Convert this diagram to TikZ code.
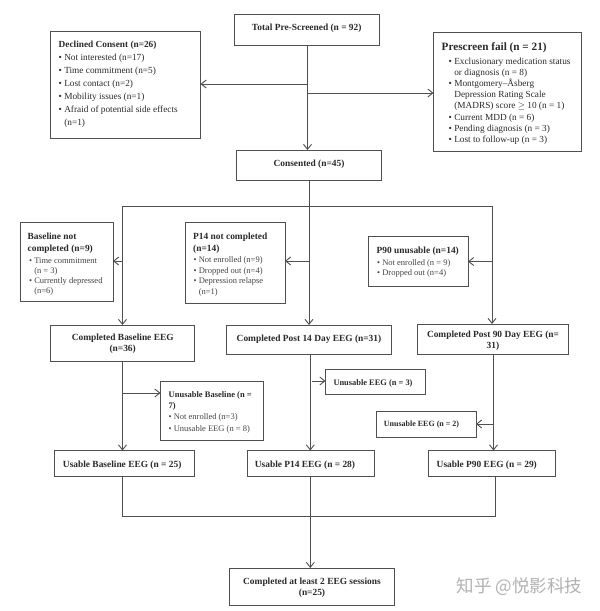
\documentclass[tikz,border=0pt]{standalone}
\usepackage{fontspec}
\setmainfont{Liberation Serif}
\newfontfamily\cjkwm{Noto Sans CJK SC}
\usetikzlibrary{arrows.meta}
\definecolor{linegray}{HTML}{505050}
\definecolor{txt}{HTML}{2A2A2A}
\definecolor{subtxt}{HTML}{444444}
\tikzset{
  x=1pt,y=-1pt,
  flowbox/.style={draw=linegray,line width=1pt,inner sep=0pt,outer sep=0pt,anchor=north west,fill=white},
  flowtext/.style={inner sep=0pt,anchor=north west,text=txt,align=left},
  head/.style={inner sep=0pt,text=txt,font=\bfseries\fontsize{9.4}{11}\selectfont,align=center},
  flow/.style={draw=linegray,line width=1pt},
  flowarrow/.style={flow,-{Straight Barb[length=5pt,width=8pt,line width=0.9pt]}},
}
\newcommand{\bx}[6]{% name, x1, y1, x2, y2, text
  \node[flowbox,minimum width={(#4-#2)*1pt},minimum height={(#5-#3)*1pt}] (#1) at (#2,#3) {};
  #6
}
\newcommand{\blt}{\textbullet\ }
\begin{document}
\begin{tikzpicture}
\useasboundingbox (0,0) rectangle (600,611);
\fill[white] (0,0) rectangle (600,611);
% boxes
\bx{total}{234.5}{14}{379}{45}{\node[head] (ttotal) at (306.7,28.4) {Total Pre-Screened (n = 92)};}
\bx{declined}{50.5}{31}{200.5}{138.5}{\node[flowtext,font=\fontsize{9.3}{13.05}\selectfont] (tdeclined) at (58.5,40.5) {\textbf{Declined Consent (n=26)}\\
\blt Not interested (n=17)\\
\blt Time commitment (n=5)\\
\blt Lost contact (n=2)\\
\blt Mobility issues (n=1)\\
\blt Afraid of potential side effects\\
\hspace*{5.6pt}(n=1)};}
\bx{prefail}{433.5}{32}{581.5}{151}{
\node[flowtext,font=\bfseries\fontsize{11.2}{13}\selectfont] (tprefailh) at (441.5,42) {Prescreen fail (n = 21)};
\node[flowtext,font=\fontsize{9.3}{11.2}\selectfont] (tprefail) at (448.5,57.5) {\blt Exclusionary medication status\\
\hspace*{5.6pt}or diagnosis (n = 8)\\
\blt Montgomery–Åsberg\\
\hspace*{5.6pt}Depression Rating Scale\\
\hspace*{5.6pt}(MADRS) score $\geq$ 10 (n = 1)\\
\blt Current MDD (n = 6)\\
\blt Pending diagnosis (n = 3)\\
\blt Lost to follow-up (n = 3)};}
\bx{consented}{236.5}{150}{381.5}{180}{\node[head] (tconsented) at (309,164.4) {Consented (n=45)};}
\bx{basenot}{20.5}{222}{113}{301}{
\node[flowtext,font=\bfseries\fontsize{9.4}{12.6}\selectfont] (tbasenoth) at (27.5,232.5) {Baseline not\\completed (n=9)};
\node[flowtext,font=\fontsize{8.5}{10.1}\selectfont,text=subtxt] (tbasenot) at (29,257.5) {\blt Time commitment\\
\hspace*{5.1pt}(n = 3)\\
\blt Currently depressed\\
\hspace*{5.1pt}(n=6)};}
\bx{pnotc}{185.5}{222}{285}{303.5}{
\node[flowtext,font=\bfseries\fontsize{9.4}{12.6}\selectfont] (tpnotch) at (193,232.5) {P14 not completed\\(n=14)};
\node[flowtext,font=\fontsize{8.5}{10.5}\selectfont,text=subtxt] (tpnotc) at (193.5,256.5) {\blt Not enrolled (n=9)\\
\blt Dropped out (n=4)\\
\blt Depression relapse\\
\hspace*{5.1pt}(n=1)};}
\bx{pninety}{368}{236.5}{468}{286}{
\node[flowtext,font=\bfseries\fontsize{9.4}{11}\selectfont] (tpninetyh) at (376.5,247) {P90 unusable (n=14)};
\node[flowtext,font=\fontsize{8.5}{10.5}\selectfont,text=subtxt] (tpninety) at (377,259) {\blt Not enrolled (n = 9)\\
\blt Dropped out (n=4)};}
\bx{compbase}{50.5}{325}{194.5}{361}{\node[head] (tcompbase) at (122.7,344.2) {Completed Baseline EEG\\(n=36)};}
\bx{compfourteen}{226.5}{325}{391.5}{354}{\node[head] (tcompfourteen) at (309,339.4) {Completed Post 14 Day EEG (n=31)};}
\bx{compninety}{417.5}{324}{568.5}{354}{\node[head] (tcompninety) at (493,341) {Completed Post 90 Day EEG (n=\\31)};}
\bx{unbase}{160.5}{381.5}{263.5}{440}{
\node[flowtext,font=\bfseries\fontsize{8.5}{11.5}\selectfont] (tunbaseh) at (168.5,391) {Unusable Baseline (n =\\7)};
\node[flowtext,font=\fontsize{8.5}{12}\selectfont,text=subtxt] (tunbase) at (168.5,413) {\blt Not enrolled (n=3)\\
\blt Unusable EEG (n = 8)};}
\bx{unthree}{325.5}{369}{425}{394}{\node[head,font=\bfseries\fontsize{8.4}{9}\selectfont] (tunthree) at (373,383.2) {Unusable EEG (n = 3)};}
\bx{untwo}{376}{411}{476}{437}{\node[head,font=\bfseries\fontsize{8}{9}\selectfont] (tuntwo) at (421.5,424.5) {Unusable EEG (n = 2)};}
\bx{usebase}{54.5}{450.5}{194.5}{476.5}{\node[head] (tusebase) at (122.2,465) {Usable Baseline EEG (n = 25)};}
\bx{usefourteen}{247.5}{450.5}{374}{476.5}{\node[head] (tusefourteen) at (305,465) {Usable P14 EEG (n = 28)};}
\bx{useninety}{428.5}{450.5}{555}{476.5}{\node[head] (tuseninety) at (486.8,465) {Usable P90 EEG (n = 29)};}
\bx{final}{229}{568}{394.5}{605}{\node[head] (tfinal) at (312,587.3) {Completed at least 2 EEG sessions\\(n=25)};}
% junctions
\coordinate (jtop) at (307.5,84);
\coordinate (jright) at (307.5,93);
\coordinate (jsplit) at (309,206);
\coordinate (jl) at (122.5,206);
\coordinate (jr) at (492,206);
\coordinate (jb1) at (122.5,261);
\coordinate (jb2) at (309,261);
\coordinate (jb3) at (492,261.5);
\coordinate (ju1) at (122.5,393);
\coordinate (ju2) at (312,381);
\coordinate (ju3) at (493.5,424);
\coordinate (jm1) at (122,516);
\coordinate (jm2) at (310.3,516);
\coordinate (jm3) at (495.5,516);
% connectors
\draw[flowarrow] (total.south west -| jtop) -- (consented.north west -| jtop);
\draw[flowarrow] (jtop) -- (jtop -| declined.east);
\draw[flowarrow] (jright) -- (jright -| prefail.west);
\draw[flow] (consented.south west -| jsplit) -- (jsplit);
\draw[flow] (jl) -- (jr);
\draw[flowarrow] (jl) -- (jl |- compbase.north);
\draw[flowarrow] (jsplit) -- (jsplit |- compfourteen.north);
\draw[flowarrow] (jr) -- (jr |- compninety.north);
\draw[flowarrow] (jb1) -- (jb1 -| basenot.east);
\draw[flowarrow] (jb2) -- (jb2 -| pnotc.east);
\draw[flowarrow] (jb3) -- (jb3 -| pninety.east);
\draw[flowarrow] (jl |- compbase.south) -- (jl |- usebase.north);
\draw[flowarrow] (ju1) -- (ju1 -| unbase.west);
\draw[flowarrow] (jm2 |- compfourteen.south) -- (jm2 |- usefourteen.north);
\draw[flowarrow] (ju2) -- (ju2 -| unthree.west);
\draw[flowarrow] (ju3 |- compninety.south) -- (ju3 |- useninety.north);
\draw[flowarrow] (ju3) -- (ju3 -| untwo.east);
\draw[flow] (jm1 |- usebase.south) -- (jm1) -- (jm3) -- (jm3 |- useninety.south);
\draw[flowarrow] (jm2 |- usefourteen.south) -- (jm2 |- final.north);
% watermark
\node[inner sep=0pt,text=black!30,font=\cjkwm\fontsize{17.5}{19}\selectfont] (wm) at (519.5,587) {知乎 @悦影科技};
\end{tikzpicture}
\end{document}
